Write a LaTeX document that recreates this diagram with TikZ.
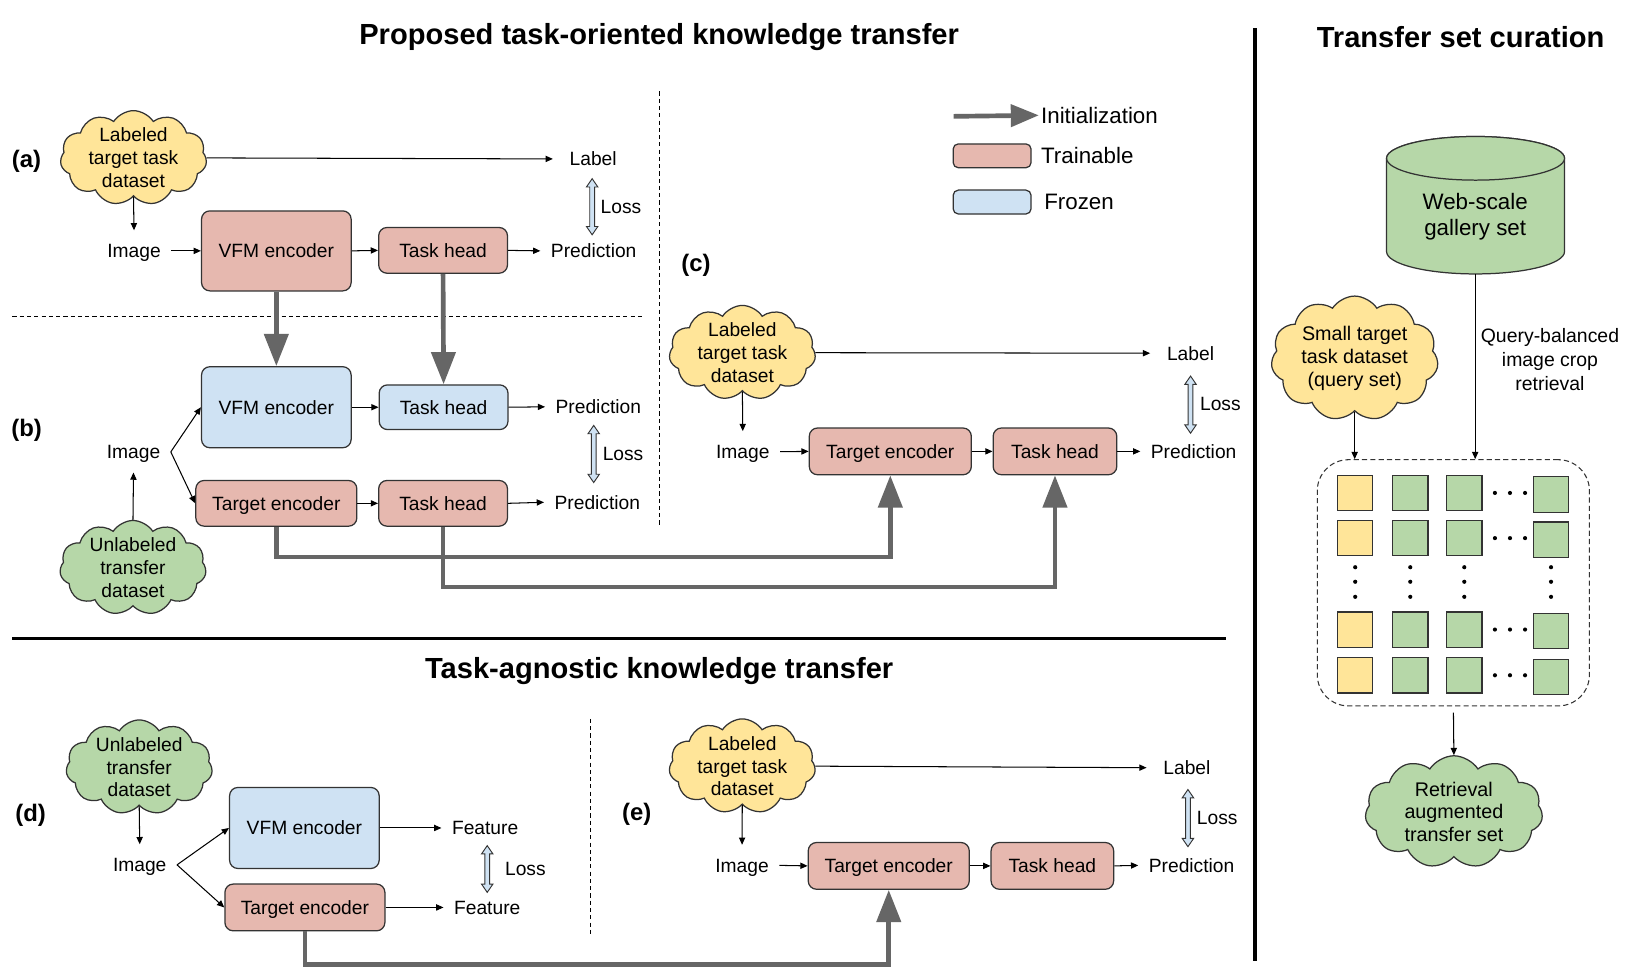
\documentclass[tikz,border=0pt]{standalone}
\usepackage{fontspec}
\setmainfont{Liberation Sans}
\usetikzlibrary{arrows.meta,shapes.symbols,calc}
\definecolor{pinkF}{HTML}{E6B8AF}
\definecolor{blueF}{HTML}{CFE2F3}
\definecolor{greenF}{HTML}{B6D7A8}
\definecolor{yellowF}{HTML}{FFE599}
\definecolor{edgeC}{HTML}{333333}
\definecolor{initC}{HTML}{666666}
\begin{document}
\begin{tikzpicture}[x=1pt,y=-1pt,
 every node/.style={font=\fontsize{18.5}{22}\selectfont},
 box/.style={draw=edgeC, line width=1.2pt, rounded corners=8pt, align=center, inner sep=0pt, text height=13.2pt, text depth=0pt},
 trainbox/.style={box, fill=pinkF},
 frozenbox/.style={box, fill=blueF},
 txt/.style={inner xsep=10pt, inner ysep=13pt, text height=13.2pt, text depth=0pt},
 cloudbase/.style={cloud, cloud puffs=11, cloud puff arc=115, aspect=1.55, draw=edgeC, line width=1.2pt, align=center, inner sep=-4pt, minimum width=141, minimum height=91},
 ycloud/.style={cloudbase, fill=yellowF},
 gcloud/.style={cloudbase, fill=greenF},
 arr/.style={-{Triangle[length=7pt,width=6pt]}, line width=1pt, black},
 initarr/.style={-{Triangle[length=31pt,width=23pt]}, line width=4.5pt, initC},
 titlefont/.style={font=\fontsize{28}{32}\selectfont\bfseries},
 plabel/.style={font=\fontsize{23}{26}\selectfont\bfseries},
 sepline/.style={line width=1pt, dash pattern=on 4pt off 3pt},
 lossstyle/.style={draw=edgeC, line width=0.9pt, fill=blueF},
 pics/lossarr/.style={code={\draw[lossstyle] (0,-#1) -- (5.5,-#1+8) -- (2.3,-#1+8) -- (2.3,#1-8) -- (5.5,#1-8) -- (0,#1) -- (-5.5,#1-8) -- (-2.3,#1-8) -- (-2.3,-#1+8) -- (-5.5,-#1+8) -- cycle;}},
 sqbox/.style={draw=edgeC, line width=1.2pt, minimum width=34, minimum height=34, inner sep=0pt},
 legfont/.style={font=\fontsize{21.5}{25}\selectfont},
]
\fill[white] (0,0) rectangle (1570,941);
\useasboundingbox (0,0) rectangle (1570,941);

% titles
\node[titlefont] (t1) at (634.5,35.5) {Proposed task-oriented knowledge transfer};
\node[titlefont] (t2) at (1406,35.3) {Transfer set curation};
\node[titlefont] (t3) at (634.5,646) {Task-agnostic knowledge transfer};

% separators
\draw[line width=3pt] (1208,27.3) -- (1208,925);
\draw[line width=3pt] (12,615) -- (1180,615);
\draw[sepline] (12,305) -- (620,305);
\draw[sepline] (635,88) -- (635,505);
\draw[sepline] (568,692) -- (568,900);

% panel labels
\node[plabel] (la) at (25.5,155) {(a)};
\node[plabel] (lb) at (25.7,414) {(b)};
\node[plabel] (lc) at (670,255) {(c)};
\node[plabel] (ld) at (29.5,785) {(d)};
\node[plabel] (le) at (613,784) {(e)};

% ---------- panel (a)
\node[ycloud] (cloudA) at (128.5,152) {Labeled\\target task\\dataset};
\node[txt] (lblA) at (571,153) {Label};
\node[txt] (imgA) at (129,241.5) {Image};
\node[trainbox, minimum width=144, minimum height=77] (vfmA) at (266,241.5) {VFM encoder};
\node[trainbox, minimum width=124, minimum height=44] (thA) at (426.5,241) {Task head};
\node[txt] (predA) at (571.5,241.5) {Prediction};
\draw[arr, shorten >=6pt] (cloudA.east) -- (lblA.west);
\draw[arr] (cloudA.south) -- (imgA.north);
\draw[arr] (imgA.east) -- (vfmA.west);
\draw[arr] (vfmA.east) -- (thA.west);
\draw[arr] (thA.east) -- (predA.west);
\pic at (570,199) {lossarr=27};
\node[anchor=west, inner sep=0pt] (lossA) at (578,199) {Loss};

% ---------- panel (b)
\node[frozenbox, minimum width=144, minimum height=78] (vfmB) at (266,392) {VFM encoder};
\node[frozenbox, minimum width=124, minimum height=43] (thB) at (427,392) {Task head};
\node[trainbox, minimum width=155, minimum height=44] (teB) at (266,484.5) {Target encoder};
\node[trainbox, minimum width=124, minimum height=44] (thB2) at (426.5,484.5) {Task head};
\node[txt] (imgB) at (128.5,435) {Image};
\node[txt] (predB1) at (576,391.6) {Prediction};
\node[txt] (predB2) at (575,483.5) {Prediction};
\node[gcloud] (cloudB) at (128,546.5) {Unlabeled\\transfer\\dataset};
\draw[arr] (imgB.east) -- (vfmB.west);
\draw[arr] (imgB.east) -- (teB.west);
\draw[arr] (vfmB.east) -- (thB.west);
\draw[arr] (thB.east) -- (predB1.west);
\draw[arr] (teB.east) -- (thB2.west);
\draw[arr] (thB2.east) -- (predB2.west);
\draw[arr] (cloudB.north) -- (imgB.south);
\pic at (571.5,437) {lossarr=27.5};
\node[anchor=west, inner sep=0pt] (lossB) at (580,436.7) {Loss};

% ---------- panel (c)
\node[ycloud] (cloudC) at (714.6,339.5) {Labeled\\target task\\dataset};
\node[txt] (lblC) at (1146,340) {Label};
\node[txt] (imgC) at (715,434.8) {Image};
\node[trainbox, minimum width=156, minimum height=45] (teC) at (857,434.5) {Target encoder};
\node[trainbox, minimum width=119, minimum height=45] (thC) at (1015.5,434.5) {Task head};
\node[txt] (predC) at (1149,434.5) {Prediction};
\draw[arr, shorten >=6pt] (cloudC.east) -- (lblC.west);
\draw[arr] (cloudC.south) -- (imgC.north);
\draw[arr] (imgC.east) -- (teC.west);
\draw[arr] (teC.east) -- (thC.west);
\draw[arr] (thC.east) -- (predC.west);
\pic at (1146,389.5) {lossarr=27.5};
\node[anchor=west, inner sep=0pt] (lossC) at (1155,388.5) {Loss};

% legend
\coordinate (legstart) at (918,112);
\node[legfont, anchor=west, inner sep=2pt] (legInit) at (1000,111) {Initialization};
\draw[initarr, -{Triangle[length=27pt,width=21pt]}] (legstart) -- (legInit.west);
\node[trainbox, rounded corners=5pt, minimum width=75, minimum height=23] (legTrain) at (955,150) {};
\node[legfont, anchor=west, inner sep=0pt] (legTrainT) at (1002,150) {Trainable};
\node[frozenbox, rounded corners=5pt, minimum width=75, minimum height=23] (legFroz) at (955,194.5) {};
\node[legfont, anchor=west, inner sep=0pt] (legFrozT) at (1005,194.5) {Frozen};

% ---------- panel (d)
\node[gcloud] (cloudD) at (134,738.5) {Unlabeled\\transfer\\dataset};
\node[txt] (imgD) at (134.5,832.5) {Image};
\node[frozenbox, minimum width=144, minimum height=78] (vfmD) at (293,797) {VFM encoder};
\node[trainbox, minimum width=154, minimum height=45] (teD) at (293.5,873.5) {Target encoder};
\node[txt] (featD1) at (467,797) {Feature};
\node[txt] (featD2) at (469,873.5) {Feature};
\draw[arr] (cloudD.south) -- (imgD.north);
\draw[arr] (imgD.east) -- (vfmD.west);
\draw[arr] (imgD.east) -- (teD.west);
\draw[arr] (vfmD.east) -- (featD1.west);
\draw[arr] (teD.east) -- (featD2.west);
\pic at (469,836.5) {lossarr=22.5};
\node[anchor=west, inner sep=0pt] (lossD) at (486,836.6) {Loss};

% ---------- panel (e)
\node[ycloud] (cloudE) at (714.5,737.5) {Labeled\\target task\\dataset};
\node[txt] (lblE) at (1142.5,739) {Label};
\node[txt] (imgE) at (714.3,833) {Image};
\node[trainbox, minimum width=155, minimum height=45] (teE) at (855.5,833.5) {Target encoder};
\node[trainbox, minimum width=118, minimum height=45] (thE) at (1013,833.5) {Task head};
\node[txt] (predE) at (1147,833) {Prediction};
\draw[arr, shorten >=6pt] (cloudE.east) -- (lblE.west);
\draw[arr] (cloudE.south) -- (imgE.north);
\draw[arr] (imgE.east) -- (teE.west);
\draw[arr] (teE.east) -- (thE.west);
\draw[arr] (thE.east) -- (predE.west);
\pic at (1143.5,787.5) {lossarr=27.5};
\node[anchor=west, inner sep=0pt] (lossE) at (1152,787.5) {Loss};

% ---------- initialization arrows
\draw[initarr] (vfmA.south) -- (vfmB.north);
\draw[initarr] (thA.south) -- (thB.north);
\draw[initarr] (teB.south) -- ++(0,29) -| (teC.south);
\draw[initarr] (thB2.south) -- ++(0,58) -| (thC.south);
\draw[initarr] (teD.south) -- ++(0,32) -| (teE.south);

% ---------- transfer set curation
\draw[draw=edgeC, line width=1.2pt, fill=greenF] (1334.7,152.4) -- (1334.7,242.2)
  arc[start angle=180, end angle=0, x radius=85.65, y radius=21.5] -- (1506,152.4)
  arc[start angle=0, end angle=-180, x radius=85.65, y radius=21] -- cycle;
\draw[draw=edgeC, line width=1.2pt, fill=greenF] (1420.35,152.4) ellipse[x radius=85.65, y radius=21];
\node[align=center, font=\fontsize{21.5}{25.7}\selectfont] (gal) at (1420,208.5) {Web-scale\\gallery set};
\coordinate (galbot) at (1420,263.7);

\node[ycloud, font=\fontsize{19}{22.5}\selectfont, minimum width=161, minimum height=120] (qcloud) at (1304,345) {Small target\\task dataset\\(query set)};
\node[align=center, font=\fontsize{18.7}{23.3}\selectfont] (qtxt) at (1492,346) {Query-balanced\\image crop\\retrieval};

\node[draw=edgeC, line width=1pt, dash pattern=on 5pt off 3pt, rounded corners=30pt, minimum width=262, minimum height=237] (grid) at (1399,561) {};
\foreach \c/\x/\dy/\col in {1/1304.5/0/yellowF, 2/1357.5/0/greenF, 3/1409.5/0/greenF, 4/1493/1.5/greenF}
  \foreach \r/\y in {1/474.5, 2/518, 3/606, 4/650}
    \node[sqbox, fill=\col] (sq-\r-\c) at (\x,\y+\dy) {};
\foreach \y in {474.5, 518, 606, 650}
  \foreach \x in {1439, 1453.5, 1468}
    \fill (\x,\y) circle[radius=2];
\foreach \x in {1304.5, 1357.5, 1409.5, 1493}
  \foreach \y in {546, 560, 574.5}
    \fill (\x,\y) circle[radius=2];

\draw[arr] (qcloud.south) -- (qcloud.south |- grid.north);
\draw[arr] (galbot) -- (galbot |- grid.north);
\node[gcloud, font=\fontsize{19}{22}\selectfont, minimum width=171, minimum height=108] (rcloud) at (1399.5,781.5) {Retrieval\\augmented\\transfer set};
\draw[arr, shorten <=6pt] (grid.south) -- (rcloud.north);
\end{tikzpicture}
\end{document}
